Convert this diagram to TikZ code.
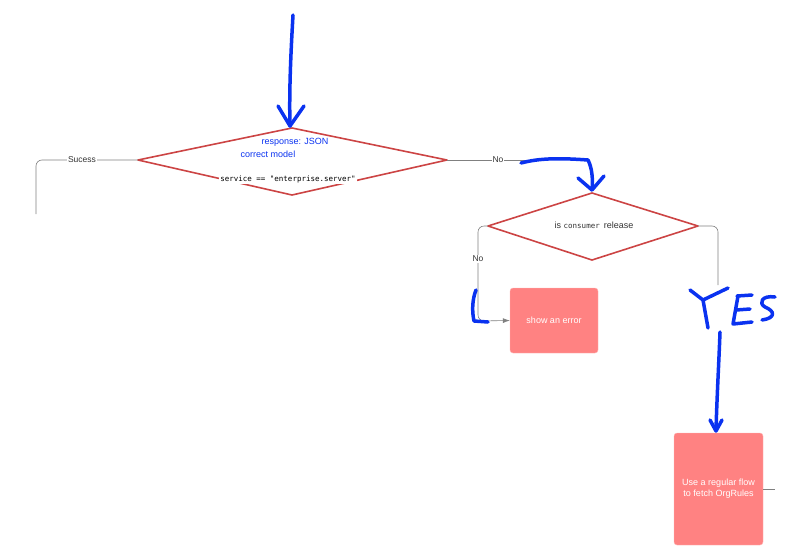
\documentclass[tikz,border=0pt]{standalone}
\usepackage{fontspec}
\setmainfont{Liberation Sans}
\setmonofont{DejaVu Sans Mono}
\usetikzlibrary{arrows.meta}
\definecolor{dred}{HTML}{CC4444}
\definecolor{pbox}{HTML}{FF8282}
\definecolor{pen}{HTML}{0A32F0}
\definecolor{conn}{HTML}{808080}
\tikzset{
  dia/.style={draw=dred,line width=1.6pt,line join=round},
  conn/.style={draw=conn,line width=0.6pt,rounded corners=6pt},
  box/.style={fill=pbox,draw=pbox!60!white,rounded corners=3pt,text=white,font=\fontsize{9}{11}\selectfont,align=center},
  ink/.style={draw=pen,line width=3.5pt,line cap=round,line join=round},
  lbl/.style={fill=white,inner sep=1pt,font=\fontsize{8.5}{10}\selectfont,text=black!80}
}
\begin{document}
\begin{tikzpicture}[x=1pt,y=-1pt]
\useasboundingbox (0,0) rectangle (810,554);
% diamond 1
\coordinate (d1l) at (138,160); \coordinate (d1r) at (447,160);
\coordinate (d1t) at (292,128); \coordinate (d1b) at (292,195);
\draw[dia] (d1l) -- (d1t) -- (d1r) -- (d1b) -- cycle;
\node[text=pen,font=\fontsize{9}{11}\selectfont] (t1) at (295,142) {response: JSON};
\node[text=pen,font=\fontsize{9}{11}\selectfont] (t2) at (268,154) {correct model};
\node[fill=white,inner sep=1pt,font=\ttfamily\fontsize{7.5}{9}\selectfont] (t3) at (288,179) {service == "enterprise.server"};
% diamond 2
\coordinate (d2l) at (488,226); \coordinate (d2r) at (698,226);
\coordinate (d2t) at (592,193); \coordinate (d2b) at (592,260);
\draw[dia] (d2l) -- (d2t) -- (d2r) -- (d2b) -- cycle;
\node[font=\fontsize{9}{11}\selectfont,text=black!80] (t4) at (594,225) {is {\ttfamily\fontsize{7.5}{9}\selectfont consumer}\, release};
% boxes
\node[box,minimum width=88pt,minimum height=65pt] (err) at (554,320.5) {show an error};
\node[box,minimum width=89pt,minimum height=112pt] (reg) at (718.5,489) {Use a regular flow\\to fetch OrgRules};
% connectors
\coordinate (e1) at (36,214);
\draw[conn] (d1l) -- (36,160) -- (e1);
\node[lbl] (s1) at (82,160) {Sucess};
\coordinate (e2) at (525,160);
\draw[conn] (d1r) -- (e2);
\node[lbl] (n1) at (498,160) {No};
\draw[conn,-{Latex[length=7pt,width=5pt]}] (d2l) -- (478,226) -- (478,321) -- (err.west);
\node[lbl] (n2) at (478,259) {No};
\coordinate (e3) at (718,285);
\draw[conn] (d2r) -- (718,226) -- (e3);
\coordinate (e4) at (775,489);
\draw[conn] (reg.east) -- (e4);
% ink scribbles
\draw[ink] (293,15) .. controls (291,50) and (289,90) .. (290,126);
\draw[ink] (278,106) -- (290,126) -- (304,106);
\draw[ink] (521,163) .. controls (540,158) and (560,158) .. (588,160) .. controls (592,168) and (593,178) .. (592,190);
\draw[ink] (578,178) -- (592,190) -- (604,176);
\draw[ink] (476,290) .. controls (472,300) and (472,312) .. (474,321) -- (488,322);
\draw[ink] (720,332) .. controls (719,360) and (717,395) .. (716,430);
\draw[ink] (710,420) -- (716,431) -- (722,420);
% YES
\draw[ink] (690,290) -- (703,300) -- (728,288);
\draw[ink] (703,300) -- (708,328);
\draw[ink] (738,296) -- (733,324) -- (752,322);
\draw[ink] (736,310) -- (750,309);
\draw[ink] (737,296) -- (752,295);
\draw[ink] (775,297) .. controls (762,295) and (758,303) .. (765,307) .. controls (775,311) and (776,318) .. (762,320);
\end{tikzpicture}
\end{document}
